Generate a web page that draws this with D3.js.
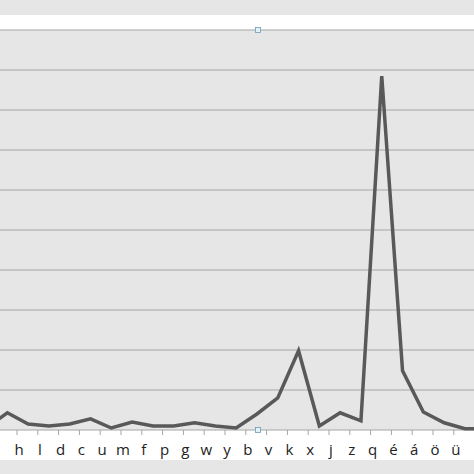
<!DOCTYPE html>
<html><head><meta charset="utf-8">
<script src="https://cdn.jsdelivr.net/npm/d3@7"></script>
<style>body{margin:0;background:#fff}svg{display:block}</style>
</head><body>
<svg id="chart" width="474" height="474"></svg>
<script>
// category labels shown under the axis
const labels = ["h","l","d","c","u","m","f","p","g","w","y","b","v","k","x","j","z","q","é","á","ö","ü"];
// line values, index -1 .. 23 (the line runs past both edges)
const pointIndex = [-1,0,1,2,3,4,5,6,7,8,9,10,11,12,13,14,15,16,17,18,19,20,21,22,23];
const pointValue = [0.05,0.43,0.15,0.1,0.15,0.28,0.05,0.2,0.1,0.1,0.18,0.1,0.05,0.4,0.8,1.98,0.1,0.43,0.23,8.85,1.48,0.45,0.18,0.03,0.03];
const yTicks = [0,1,2,3,4,5,6,7,8,9,10];

const svg = d3.select("#chart");
const W = 474, H = 474;
const x = d3.scaleLinear().domain([0, 1]).range([19, 39.8]);
const y = d3.scaleLinear().domain([0, 10]).range([430, 30]);

svg.append("rect").attr("width", W).attr("height", H).attr("fill", "#e6e6e6");
svg.append("rect").attr("y", 15).attr("width", W).attr("height", 15).attr("fill", "#fff");
svg.append("rect").attr("y", 430).attr("width", W).attr("height", 30).attr("fill", "#fff");

svg.append("g").selectAll("line").data(yTicks).join("line")
  .attr("x1", 0).attr("x2", W)
  .attr("y1", d => y(d)).attr("y2", d => y(d))
  .attr("stroke", "#a6a6a6").attr("stroke-width", 1.2);

const axis = svg.append("g").attr("transform", "translate(0,430)");
axis.selectAll("line").data(d3.range(-1, 23)).join("line")
  .attr("x1", d => x(d) - 2).attr("x2", d => x(d) - 2)
  .attr("y1", 0).attr("y2", 5).attr("stroke", "#a6a6a6");
axis.selectAll("text").data(labels).join("text")
  .attr("x", (d, i) => x(i)).attr("y", 25)
  .attr("text-anchor", "middle")
  .attr("font-family", "Open Sans, DejaVu Sans, sans-serif")
  .attr("font-size", 15).attr("fill", "#222")
  .text(d => d);

const line = d3.line().x(d => x(d[0] - 0.56)).y(d => y(d[1]));
svg.append("path")
  .datum(pointIndex.map((d, i) => [d, pointValue[i]]))
  .attr("d", line).attr("fill", "none")
  .attr("stroke", "#595959").attr("stroke-width", 3.5)
  .attr("stroke-linejoin", "miter");

// selection handles
[30, 430].forEach(v => svg.append("rect")
  .attr("x", 255.5).attr("y", v - 2.5).attr("width", 5).attr("height", 5)
  .attr("fill", "#dff3f8").attr("stroke", "#6b9cb0").attr("stroke-width", 0.8));
</script>
</body></html>
